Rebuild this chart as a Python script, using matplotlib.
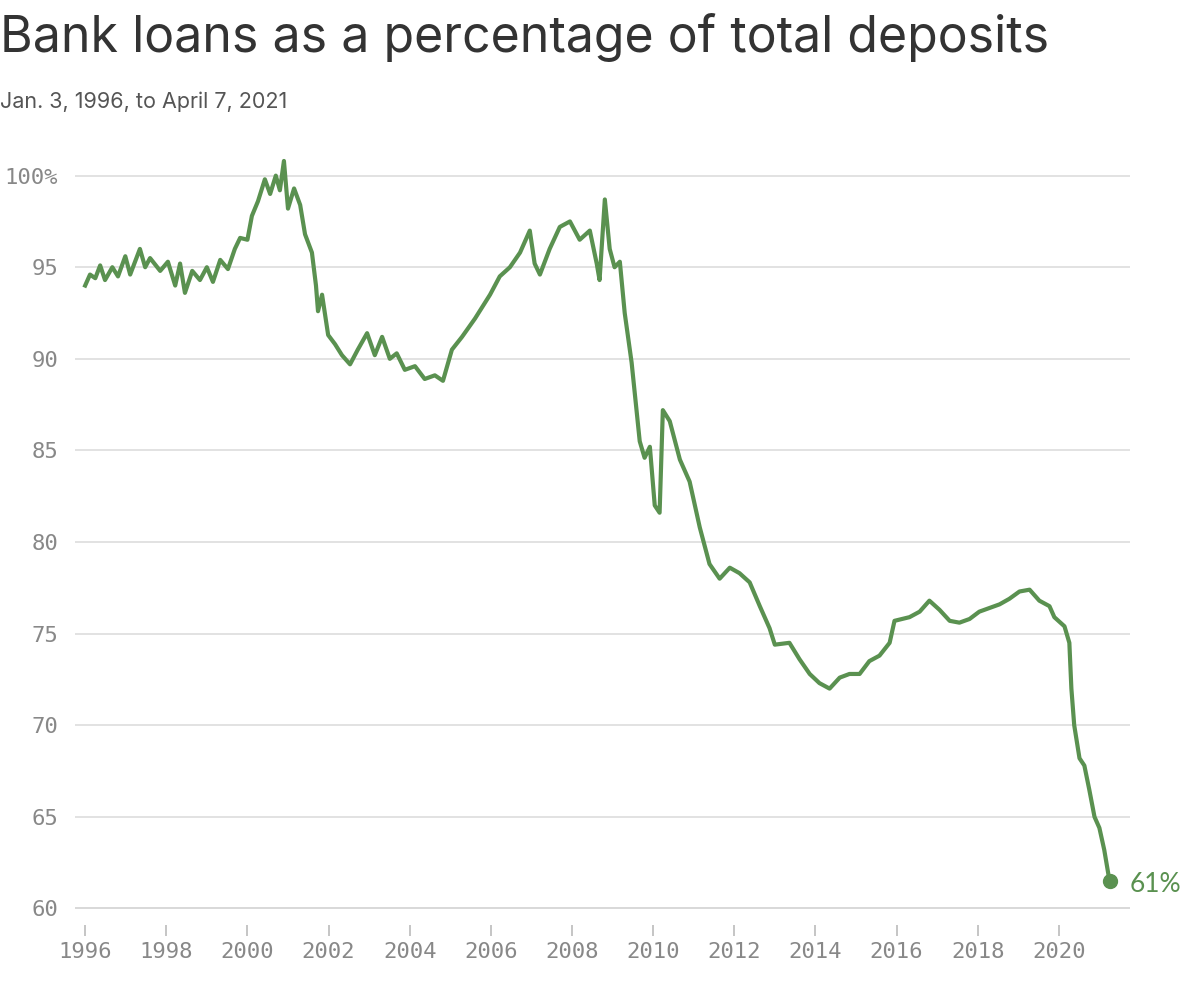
import matplotlib.pyplot as plt

# values: (year, bank loans as % of deposits)
series = [
    (1996.0, 94.0), (1996.12, 94.6), (1996.25, 94.4), (1996.37, 95.1), (1996.49, 94.3),
    (1996.67, 95.0), (1996.81, 94.5), (1996.99, 95.6), (1997.11, 94.6), (1997.35, 96.0),
    (1997.48, 95.0), (1997.6, 95.5), (1997.85, 94.8), (1998.04, 95.3), (1998.22, 94.0),
    (1998.34, 95.2), (1998.46, 93.6), (1998.64, 94.8), (1998.83, 94.3), (1999.0, 95.0),
    (1999.15, 94.2), (1999.33, 95.4), (1999.52, 94.9), (1999.69, 96.0), (1999.82, 96.6),
    (2000.0, 96.5), (2000.11, 97.8), (2000.26, 98.6), (2000.43, 99.8), (2000.56, 99.0),
    (2000.7, 100.0), (2000.8, 99.2), (2000.9, 100.8), (2001.0, 98.2), (2001.15, 99.3),
    (2001.3, 98.4), (2001.42, 96.8), (2001.59, 95.8), (2001.69, 94.0), (2001.74, 92.6),
    (2001.84, 93.5), (2001.99, 91.3), (2002.16, 90.8), (2002.33, 90.2), (2002.53, 89.7),
    (2002.72, 90.5), (2002.95, 91.4), (2003.14, 90.2), (2003.32, 91.2), (2003.51, 90.0),
    (2003.68, 90.3), (2003.88, 89.4), (2004.13, 89.6), (2004.37, 88.9), (2004.62, 89.1),
    (2004.82, 88.8), (2005.04, 90.5), (2005.29, 91.2), (2005.61, 92.2), (2005.98, 93.5),
    (2006.22, 94.5), (2006.47, 95.0), (2006.72, 95.8), (2006.96, 97.0), (2007.08, 95.2),
    (2007.21, 94.6), (2007.45, 96.0), (2007.7, 97.2), (2007.95, 97.5), (2008.19, 96.5),
    (2008.44, 97.0), (2008.61, 95.2), (2008.68, 94.3), (2008.81, 98.7), (2008.93, 96.0),
    (2009.05, 95.0), (2009.18, 95.3), (2009.3, 92.5), (2009.47, 89.8), (2009.67, 85.5),
    (2009.79, 84.6), (2009.92, 85.2), (2010.04, 82.0), (2010.16, 81.6), (2010.24, 87.2),
    (2010.41, 86.6), (2010.66, 84.5), (2010.9, 83.3), (2011.15, 80.8), (2011.39, 78.8),
    (2011.64, 78.0), (2011.89, 78.6), (2012.13, 78.3), (2012.38, 77.8), (2012.63, 76.5),
    (2012.87, 75.3), (2013.0, 74.4), (2013.36, 74.5), (2013.61, 73.6), (2013.86, 72.8),
    (2014.1, 72.3), (2014.35, 72.0), (2014.6, 72.6), (2014.84, 72.8), (2015.09, 72.8),
    (2015.33, 73.5), (2015.58, 73.8), (2015.83, 74.5), (2015.95, 75.7), (2016.32, 75.9),
    (2016.57, 76.2), (2016.81, 76.8), (2017.06, 76.3), (2017.31, 75.7), (2017.55, 75.6),
    (2017.8, 75.8), (2018.04, 76.2), (2018.54, 76.6), (2018.78, 76.9), (2019.03, 77.3),
    (2019.28, 77.4), (2019.52, 76.8), (2019.77, 76.5), (2019.89, 75.9), (2020.14, 75.4),
    (2020.26, 74.5), (2020.31, 72.0), (2020.38, 70.0), (2020.51, 68.2), (2020.63, 67.8),
    (2020.75, 66.5), (2020.88, 65.0), (2021.0, 64.4), (2021.12, 63.2), (2021.25, 61.5),
]
years = [p[0] for p in series]
values = [p[1] for p in series]

x_ticks = list(range(1996, 2021, 2))
y_ticks = [60, 65, 70, 75, 80, 85, 90, 95, 100]
y_labels = ["60", "65", "70", "75", "80", "85", "90", "95", "100%"]

green = "#5a9150"
grey = "#888888"

fig = plt.figure(figsize=(12, 9.9), dpi=100)
ax = fig.add_axes([0.0625, 0.0657, 0.879, 0.768])

ax.plot(years, values, color=green, lw=3, solid_joinstyle="round", clip_on=False)
ax.plot(years[-1], values[-1], "o", color=green, ms=10, clip_on=False)
ax.text(years[-1] + 0.5, values[-1] - 0.2, "61%", color=green, fontsize=19,
        va="center", family="Lato")

ax.set_xlim(1995.75, 2021.75)
ax.set_ylim(59.1, 100.6)
ax.set_yticks(y_ticks)
ax.set_yticklabels(y_labels)
ax.set_xticks(x_ticks)
for s in ax.spines.values():
    s.set_visible(False)
ax.grid(axis="y", color="#dddddd", lw=1.2)
ax.set_axisbelow(True)
ax.axhline(60, color="#bbbbbb", lw=1.2, zorder=0)
ax.tick_params(axis="y", length=0, pad=12, labelcolor=grey, labelsize=16)
ax.tick_params(axis="x", length=8, color="#bbbbbb", width=1.2, pad=4,
               labelcolor=grey, labelsize=16)
for lab in ax.get_xticklabels() + ax.get_yticklabels():
    lab.set_family("DejaVu Sans Mono")

fig.text(0.0, 0.962, "Bank loans as a percentage of total deposits", fontsize=36,
         color="#333333", family="Inter", va="center")
fig.text(0.0, 0.897, "Jan. 3, 1996, to April 7, 2021", fontsize=15.5,
         color="#555555", family="Inter", va="center")

fig.savefig("out.png")
